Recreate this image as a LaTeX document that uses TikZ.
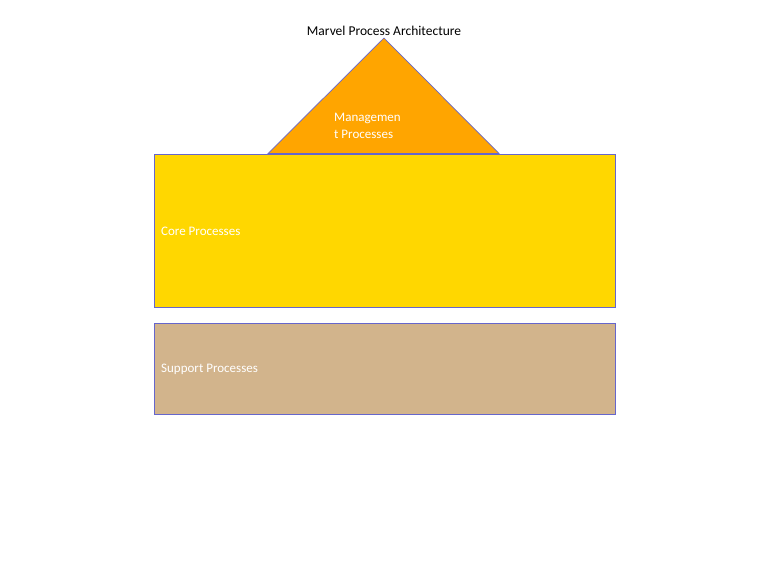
\documentclass[tikz,border=0pt]{standalone}
\usepackage{fontspec}
\setmainfont{Carlito}
\begin{document}
\begin{tikzpicture}[x=1pt,y=-1pt,
  blk/.style={draw=blue!50!gray!80, line width=0.7pt},
  lbl/.style={text=white, font=\fontsize{13}{17}\selectfont, anchor=west, inner sep=0pt}]
\useasboundingbox (0,0) rectangle (768,576);
\fill[white] (0,0) rectangle (768,576);
\node[font=\fontsize{13.5}{16}\selectfont, inner sep=0pt] (title) at (384,31) {Marvel Process Architecture};
\draw[blk, fill={rgb,255:red,255;green,165;blue,0}] (384,38) -- (499,153.5) -- (268,153.5) -- cycle;
\node[lbl, align=left] (mgmt) at (334,125.5) {Managemen\\t Processes};
\draw[blk, fill={rgb,255:red,255;green,215;blue,0}] (154,154) rectangle (615,307);
\node[lbl] (core) at (161,231) {Core Processes};
\draw[blk, fill={rgb,255:red,210;green,180;blue,140}] (154,323) rectangle (615,414);
\node[lbl] (supp) at (161,369) {Support Processes};
\end{tikzpicture}
\end{document}
